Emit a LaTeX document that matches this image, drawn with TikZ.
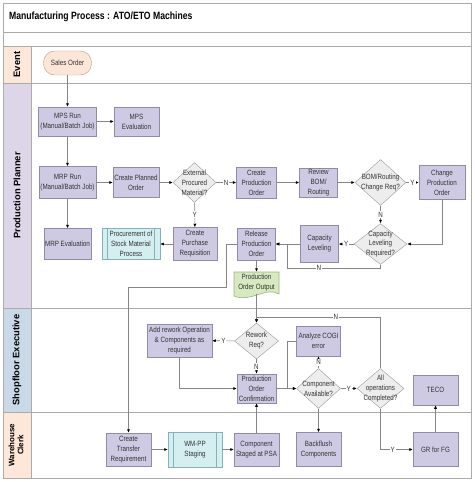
\documentclass[tikz,border=0pt]{standalone}
\usepackage{fontspec}
\setmainfont{Liberation Sans}[FakeStretch=0.82]
\newfontfamily\lanefont{Liberation Sans}
\usetikzlibrary{shapes.geometric,arrows.meta}

\definecolor{boxfill}{HTML}{CFCAE3}
\definecolor{boxline}{HTML}{8F8BA8}
\definecolor{dfill}{HTML}{EDEDED}
\definecolor{dline}{HTML}{A3A3A3}
\definecolor{cyanfill}{HTML}{D5EFF0}
\definecolor{cyanline}{HTML}{80B4B8}
\definecolor{docfill}{HTML}{D7E9C0}
\definecolor{docline}{HTML}{9AB57C}
\definecolor{salesfill}{HTML}{FBE6D8}
\definecolor{salesline}{HTML}{C9A792}
\definecolor{laneline}{HTML}{ABABAB}
\definecolor{flowline}{HTML}{858585}
\definecolor{textgray}{HTML}{333333}
\definecolor{peach}{HTML}{FCE7D9}
\definecolor{lavender}{HTML}{DDD6E8}
\definecolor{paleblue}{HTML}{C9D9E8}

\begin{document}
\begin{tikzpicture}[x=0.03cm,y=-0.03cm,
	>={Latex[length=3pt,width=2.6pt,color=black]},
	lane/.style={draw=laneline,line width=0.7pt},
	flow/.style={draw=flowline,line width=0.5pt},
	txt/.style={align=center,font=\fontsize{6.5}{8.5}\selectfont,text=textgray},
	yn/.style={fill=white,inner sep=0.8pt,font=\fontsize{6.5}{7}\selectfont,text=textgray},
	box/.style 2 args={txt,draw=boxline,fill=boxfill,inner sep=0pt,minimum width=#1*0.03cm,minimum height=#2*0.03cm},
	subproc/.style 2 args={box={#1}{#2},draw=cyanline,fill=cyanfill,
		path picture={\draw[cyanline] ([xshift=4.6pt]path picture bounding box.north west) -- ([xshift=4.6pt]path picture bounding box.south west)
			([xshift=-4.6pt]path picture bounding box.north east) -- ([xshift=-4.6pt]path picture bounding box.south east);}},
	decision/.style 2 args={diamond,draw=dline,fill=dfill,inner sep=0pt,minimum width=#1*0.03cm,minimum height=#2*0.03cm},
	dtext/.style={txt,inner sep=0pt},
	lanetitle/.style={rotate=90,align=center,text=black,font=\lanefont\bfseries\fontsize{8}{9}\selectfont}]
	\useasboundingbox (0,0) rectangle (474,482);
	
	% swimlanes
	\fill[peach] (3,46) rectangle (31,83);
	\fill[lavender] (3,83) rectangle (31,308);
	\fill[paleblue] (3,308) rectangle (31,412);
	\fill[peach] (3,412) rectangle (31,478);
	\draw[lane] (3,3) rectangle (471,478);
	\draw[lane] (3,32) -- (471,32);
	\draw[lane] (3,46) -- (471,46);
	\draw[lane] (3,83) -- (471,83);
	\draw[lane] (3,308) -- (471,308);
	\draw[lane] (3,412) -- (471,412);
	\draw[lane] (31,46) -- (31,478);
	
	\node[anchor=west,font=\bfseries\fontsize{9}{11}\selectfont] (title) at (5,17) {Manufacturing Process : ATO/ETO Machines};
	
	\node[lanetitle] (lev) at (17,64.5) {Event};
	\node[lanetitle] (lpp) at (17,195.5) {Production Planner};
	\node[lanetitle] (lse) at (17,360) {Shopfloor Executive};
	\node[lanetitle,font=\lanefont\bfseries\fontsize{6.8}{7.6}\selectfont] (lwc) at (16,445) {Warehouse\\Clerk};
	
	% event / production planner
	\node[txt,draw=salesline,fill=salesfill,rounded corners=0.34cm,minimum width=1.44cm,minimum height=0.72cm] (sales) at (67.5,63) {Sales Order};
	
	\node[box={58}{29}]	(mpsrun) at (67.5,121.5) {MPS Run\\(Manual/Batch Job)};
	\node[box={45}{29}]	(mpseval) at (136.5,121.5) {MPS\\Evaluation};
	
	\node[box={57}{32}]	(mrprun) at (67.5,182.5) {MRP Run\\(Manual/Batch Job)};
	\node[box={46}{30}]	(planord) at (136,182.5) {Create Planned\\Order};
	\node[decision={43}{40},label={[dtext]center:External\\Procured\\Material?}] (extproc) at (194.5,182.5) {};
	\node[box={40}{31}]	(createprod) at (256.5,182.5) {Create\\Production\\Order};
	\node[box={38}{29}]	(reviewbom) at (318.5,182.5) {Review\\BOM/\\Routing};
	\node[decision={51}{46},label={[dtext]center:BOM/Routing\\Change Req?}] (bomchg) at (380.5,182.5) {};
	\node[box={46}{34}]	(chgprod) at (442,182.5) {Change\\Production\\Order};
	
	\node[box={47}{31}]	(mrpeval) at (67.5,244) {MRP Evaluation};
	\node[subproc={58}{31}] (procstock) at (131,244) {Procurement of\\Stock Material\\Process};
	\node[box={44}{33}]	(purreq) at (195,244) {Create\\Purchase\\Requisition};
	\node[box={38}{32}]	(release) at (256.5,244) {Release\\Production\\Order};
	\node[box={38}{37}]	(caplev) at (319.5,244) {Capacity\\Leveling};
	\node[decision={53}{41},label={[dtext]center:Capacity\\Leveling\\Required?}] (caplevreq) at (380.5,244) {};
	
	\draw[draw=docline,fill=docfill,line width=0.5pt] (234,272) -- (279,272) -- (279,294) .. controls (267,286) and (250,303) .. (234,296) -- cycle;
	\node[txt,inner sep=0pt,minimum width=1.35cm,minimum height=0.66cm] (output) at (256.5,283) {Production\\Order Output};
	
	% shopfloor executive
	\node[box={65}{33}]	(addrework) at (179.5,340.5) {Add rework Operation\\\& Components as\\required};
	\node[decision={44}{36},label={[dtext]center:Rework\\Req?}] (rework) at (256.5,341) {};
	\node[box={44}{30}]	(cogi) at (318.5,341) {Analyze COGI\\error};
	\node[box={39}{29}]	(confirm) at (256.5,388.5) {Production\\Order\\Confirmation};
	\node[decision={44}{40},label={[dtext]center:Component\\Available?}] (compavail) at (318.5,388.5) {};
	\node[decision={47}{40},label={[dtext]center:All\\operations\\Completed?}] (allops) at (380.5,388.5) {};
	\node[box={45}{30}]	(teco) at (435.5,390) {TECO};
	
	% warehouse clerk
	\node[box={45}{33}]	(transreq) at (128.5,449.5) {Create\\Transfer\\Requirement};
	\node[subproc={54}{35}] (wmpp) at (195,449.5) {WM-PP\\Staging};
	\node[box={45}{33}]	(staged) at (256.5,449.5) {Component\\Staged at PSA};
	\node[box={45}{34}]	(backflush) at (318.5,449.5) {Backflush\\Components};
	\node[box={45}{34}]	(grfg) at (435.5,449.5) {GR for FG};
	
	\path [flow,->] (sales) edge (mpsrun);
	\path [flow,->] (mpsrun) edge (mpseval);
	\path [flow,->] (mpsrun) edge (mrprun);
	\path [flow,->] (mrprun) edge (mrpeval);
	\path [flow,->] (mrprun) edge (planord);
	\path [flow,->] (planord) edge (extproc);
	\path [flow,->] (extproc) edge node[yn] {N} (createprod);
	\path [flow,->] (extproc) edge node[yn] {Y} (purreq);
	\path [flow,->] (purreq) edge (procstock);
	\path [flow,->] (createprod) edge (reviewbom);
	\path [flow,->] (reviewbom) edge (bomchg);
	\path [flow,->] (bomchg) edge node[yn] {Y} (chgprod);
	\path [flow,->] (bomchg) edge node[yn] {N} (caplevreq);
	\path [flow,->] (caplevreq) edge node[yn] {Y} (caplev);
	\path [flow,->] (caplev) edge (release);
	\path [flow,->] (release) edge (output);
	\draw [flow,->] (chgprod) |- (caplevreq);
	\draw [flow,->] (caplevreq.south) |- node[yn,pos=0.83] {N} (287,268) |- (release.east);
	\draw [flow,->] (release.west) -| (226,287) -| (transreq);
	
	\path [flow,->] (output) edge (rework);
	\draw [flow,->] (allops) |- node[yn,pos=0.68] {N} (256.5,317) -- (rework);
	\path [flow,->] (rework) edge node[yn] {Y} (addrework);
	\path [flow,->] (rework) edge node[yn] {N} (confirm);
	\draw [flow,->] (addrework) |- (confirm);
	\path [flow,->] (confirm) edge (compavail);
	\draw [flow,->] (cogi.west) -- (287,341) |- (compavail);
	\path [flow,->] (compavail) edge node[yn] {N} (cogi);
	\path [flow,->] (compavail) edge node[yn] {Y} (allops);
	\path [flow,->] (compavail) edge (backflush);
	\draw [flow,->] (allops) |- node[yn,pos=0.69] {Y} (grfg);
	\path [flow,->] (grfg) edge (teco);
	
	\path [flow,->] (transreq) edge (wmpp);
	\path [flow,->] (wmpp) edge (staged);
	\path [flow,->] (staged) edge (confirm);
\end{tikzpicture}
\end{document}
